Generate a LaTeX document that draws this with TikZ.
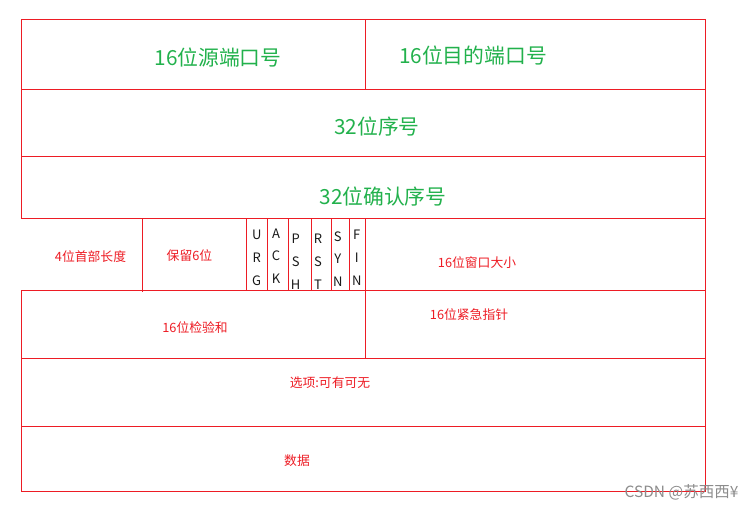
\documentclass[tikz,border=0pt]{standalone}
\usepackage{fontspec}
\newfontfamily\cjk{Noto Sans CJK SC}
\definecolor{linered}{RGB}{237,28,36}
\definecolor{titlegreen}{RGB}{34,177,76}
\begin{document}
\begin{tikzpicture}[x=1pt,y=-1pt,line width=1pt,
    big/.style={font=\cjk\fontsize{20.8}{24}\selectfont,text=titlegreen,inner sep=0pt},
    small/.style={font=\cjk\fontsize{12.8}{15}\selectfont,text=linered,inner sep=0pt},
    flag/.style={font=\cjk\fontsize{13}{15}\selectfont,text=black!90,inner sep=0pt}]
    \useasboundingbox (0,0) rectangle (756,509);
    % frame and rows
    \draw [linered] (21,218) -- (21,19) -- (705,19) -- (705,491) -- (21,491) -- (21,290);
    \draw [linered] (21,89) -- (705,89);   \draw [linered] (21,156) -- (705,156);
    \draw [linered] (21,218) -- (705,218); \draw [linered] (21,290) -- (705,290);
    \draw [linered] (21,358) -- (705,358); \draw [linered] (21,426) -- (705,426);
    % columns
    \draw [linered] (365,19) -- (365,89);
    \draw [linered] (142.7,218) -- (142.7,292); \draw [linered] (246.7,218) -- (246.7,290);
    \draw [linered] (267.7,218) -- (267.7,290); \draw [linered] (288.3,218) -- (288.3,290);
    \draw [linered] (311.7,218) -- (311.7,290); \draw [linered] (331.7,218) -- (331.7,290);
    \draw [linered] (349.3,218) -- (349.3,290); \draw [linered] (365.5,218) -- (365.5,358);
    % fields
    \node [big] (srcport) at (218,58) {16位源端口号};  \node [big] (dstport) at (473,56) {16位目的端口号};
    \node [big] (seqno) at (377,127) {32位序号};
    \node [big] (ackno) at (383,197) {32位确认序号};
    \node [small] (hdrlen) at (90.5,257) {4位首部长度};  \node [small] (resv) at (189.5,256) {保留6位};
    \node [small] (window) at (477,263) {16位窗口大小};
    \node [small] (chksum) at (195,328) {16位检验和};  \node [small] (urgptr) at (469,315) {16位紧急指针};
    \node [small] (opts) at (330,383) {选项:可有可无};
    \node [small] (data) at (297,461) {数据};
    % flag bits
    \node [flag] (urgu) at (256.7,235) {U};  \node [flag] (urgr) at (256.7,258) {R};  \node [flag] (urgg) at (256.7,281) {G};
    \node [flag] (acka) at (276,234) {A};    \node [flag] (ackc) at (276,256) {C};    \node [flag] (ackk) at (276,279) {K};
    \node [flag] (pshp) at (295.7,239) {P};  \node [flag] (pshs) at (295.7,262) {S};  \node [flag] (pshh) at (295.7,285) {H};
    \node [flag] (rstr) at (318,239) {R};    \node [flag] (rsts) at (318,262) {S};    \node [flag] (rstt) at (318,285) {T};
    \node [flag] (syns) at (337.7,237) {S};  \node [flag] (syny) at (337.7,259) {Y};  \node [flag] (synn) at (337.7,282) {N};
    \node [flag] (finf) at (356.7,235) {F};  \node [flag] (fini) at (356.7,258) {I};  \node [flag] (finn) at (356.7,281) {N};
    % watermark
    \node [font=\cjk\fontsize{15.5}{18}\selectfont,text=black!45,inner sep=0pt] (mark) at (681.5,492) {CSDN @苏西西¥};
\end{tikzpicture}
\end{document}
